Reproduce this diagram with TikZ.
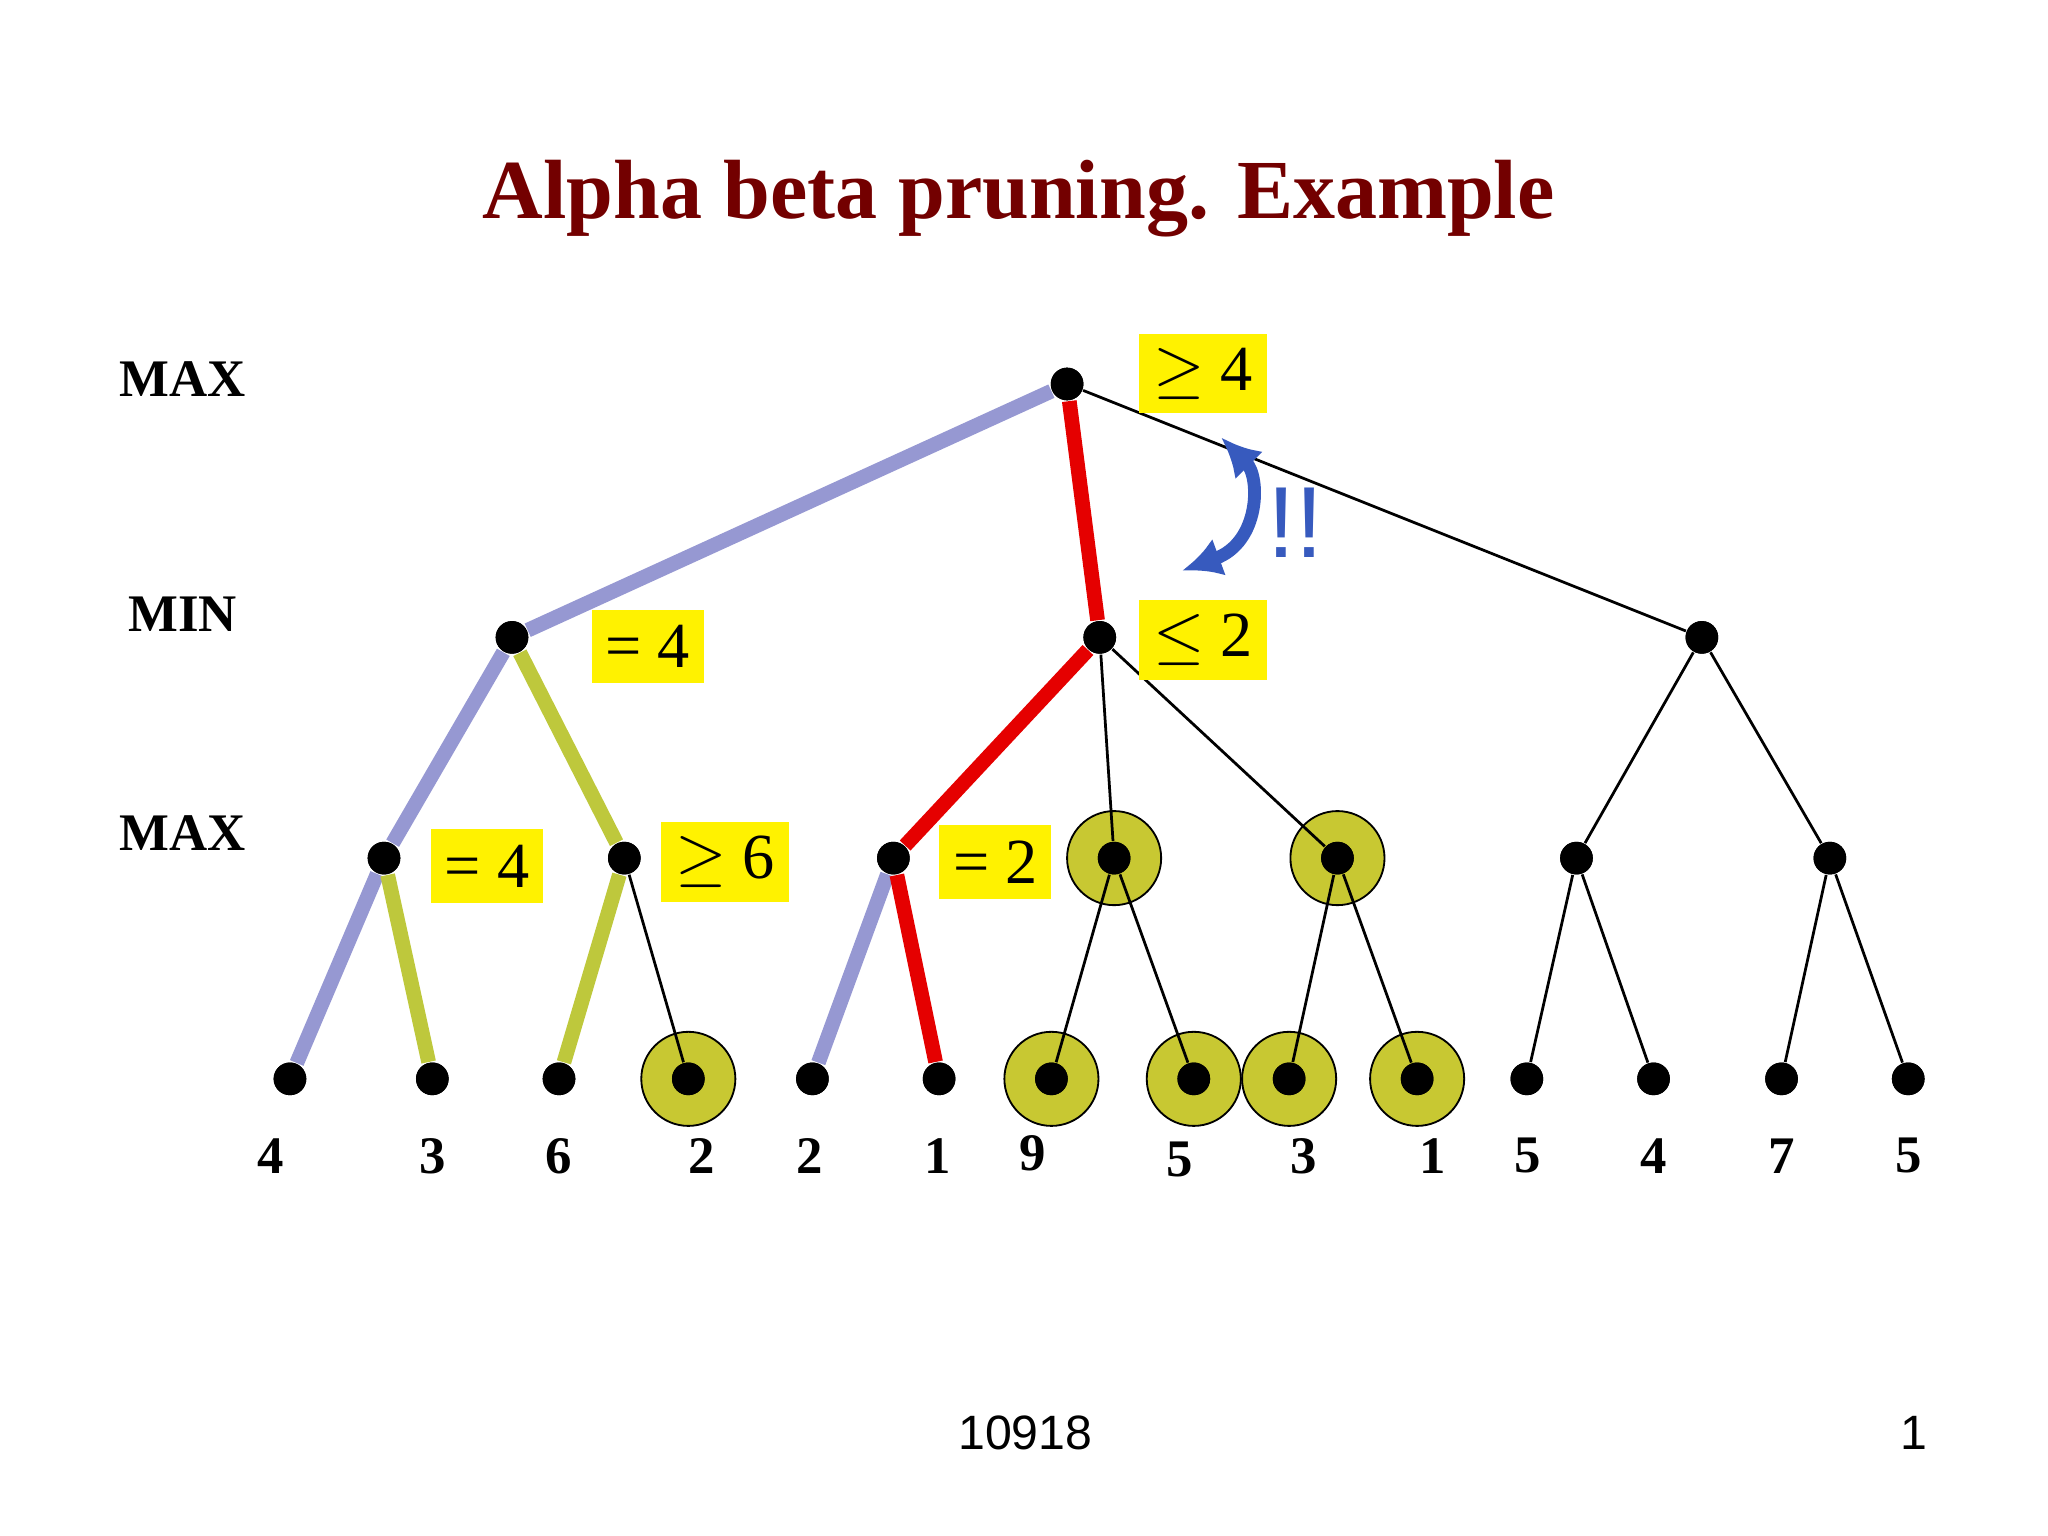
\documentclass[tikz,border=0pt]{standalone}
\usepackage{fontspec}
\usetikzlibrary{arrows.meta}
\setmainfont{Liberation Serif}
\setsansfont{Liberation Sans}
\definecolor{lavc}{RGB}{150,152,210}
\definecolor{grnc}{RGB}{190,200,60}
\definecolor{ringc}{RGB}{200,200,50}
\definecolor{arrc}{RGB}{55,90,190}
\begin{document}
\begin{tikzpicture}[x=0.01cm,y=-0.01cm,
  dot/.style={circle,fill=black,inner sep=0pt,minimum size=0.25cm},
  ring/.style={circle,draw=black,fill=ringc,inner sep=0pt,minimum size=0.72cm},
  lav/.style={line width=3.2pt,draw=lavc},
  grn/.style={line width=3.2pt,draw=grnc},
  red/.style={line width=3.2pt,draw=red!90!black},
  thin/.style={line width=0.6pt,draw=black},
  lab/.style={fill=yellow,inner sep=3pt,minimum width=0.85cm,minimum height=0.56cm,font=\fontsize{14}{17}\selectfont},
  lvl/.style={font=\bfseries\fontsize{11.5}{14}\selectfont},
  leaf/.style={font=\bfseries\fontsize{11.5}{14}\selectfont}]
\useasboundingbox (0,0) rectangle (1568,1176);
\node[font=\bfseries\fontsize{18.3}{22}\selectfont,text=red!45!black] (title) at (780,152) {Alpha beta pruning. Example};
\node[lvl] (m1) at (140,290) {MAX};
\node[lvl] (m2) at (140,470) {MIN};
\node[lvl] (m3) at (140,638) {MAX};
\foreach \n/\x/\y in {rb2/853/657,rb3/1024/657,r4/527/826,r7/805/826,r8/914/826,r9/987/826,r10/1085/826}
  \node[ring] (\n) at (\x,\y) {};
\node[dot] (R) at (817,294) {};
\node[dot] (A) at (392,488) {};
\node[dot] (B) at (842,488) {};
\node[dot] (C) at (1303,488) {};
\node[dot] (A1) at (294,657) {};
\node[dot] (A2) at (478,657) {};
\node[dot] (B1) at (684,657) {};
\node[dot] (B2) at (853,657) {};
\node[dot] (B3) at (1024,657) {};
\node[dot] (C1) at (1207,657) {};
\node[dot] (C2) at (1401,657) {};
\foreach \i/\x in {1/222,2/331,3/428,4/527,5/622,6/719,7/805,8/914,9/987,10/1085,11/1169,12/1266,13/1364,14/1461}
  \node[dot] (L\i) at (\x,826) {};
\draw[lav] (R) -- (A); \draw[red] (R) -- (B); \draw[thin] (R) -- (C);
\draw[lav] (A) -- (A1); \draw[grn] (A) -- (A2);
\draw[red] (B) -- (B1); \draw[thin] (B) -- (B2); \draw[thin] (B) -- (B3);
\draw[thin] (C) -- (C1); \draw[thin] (C) -- (C2);
\draw[lav] (A1) -- (L1); \draw[grn] (A1) -- (L2);
\draw[grn] (A2) -- (L3); \draw[thin] (A2) -- (L4);
\draw[lav] (B1) -- (L5); \draw[red] (B1) -- (L6);
\draw[thin] (B2) -- (L7); \draw[thin] (B2) -- (L8);
\draw[thin] (B3) -- (L9); \draw[thin] (B3) -- (L10);
\draw[thin] (C1) -- (L11); \draw[thin] (C1) -- (L12);
\draw[thin] (C2) -- (L13); \draw[thin] (C2) -- (L14);
\foreach \n in {R,A,B,C,A1,A2,B1,B2,B3,C1,C2,L1,L2,L3,L4,L5,L6,L7,L8,L9,L10,L11,L12,L13,L14}
  \fill (\n) circle (0.125cm);
\node[lab] (b1) at (921,286) {$\geq$ 4};
\node[lab] (b2) at (496,495) {= 4};
\node[lab] (b3) at (921,490) {$\leq$ 2};
\node[lab] (b4) at (373,663) {= 4};
\node[lab] (b5) at (555,660) {$\geq$ 6};
\node[lab] (b6) at (762,660) {= 2};
\foreach \i/\x/\y/\v in {1/207/885/4,2/331/885/3,3/428/885/6,4/537/885/2,5/620/885/2,6/718/885/1,7/791/883/9,8/903/888/5,9/998/885/3,10/1097/885/1,11/1170/885/5,12/1266/885/4,13/1364/885/7,14/1461/885/5}
  \node[leaf] (v\i) at (\x,\y) {\v};
\coordinate (a1) at (905,437);
\coordinate (a2) at (935,335);
\draw[arrc,line width=2.8pt,{Latex[length=0.3cm,width=0.3cm]}-{Latex[length=0.3cm,width=0.3cm]}] (a1) .. controls (965,415) and (965,365) .. (a2);
\node[text=arrc,font=\sffamily\fontsize{22}{26}\selectfont] (ex) at (992,400) {!!};
\node[font=\sffamily\fontsize{10.5}{13}\selectfont] (f1) at (785,1097) {10918};
\node[font=\sffamily\fontsize{10.5}{13}\selectfont] (f2) at (1465,1097) {1};
\end{tikzpicture}
\end{document}
